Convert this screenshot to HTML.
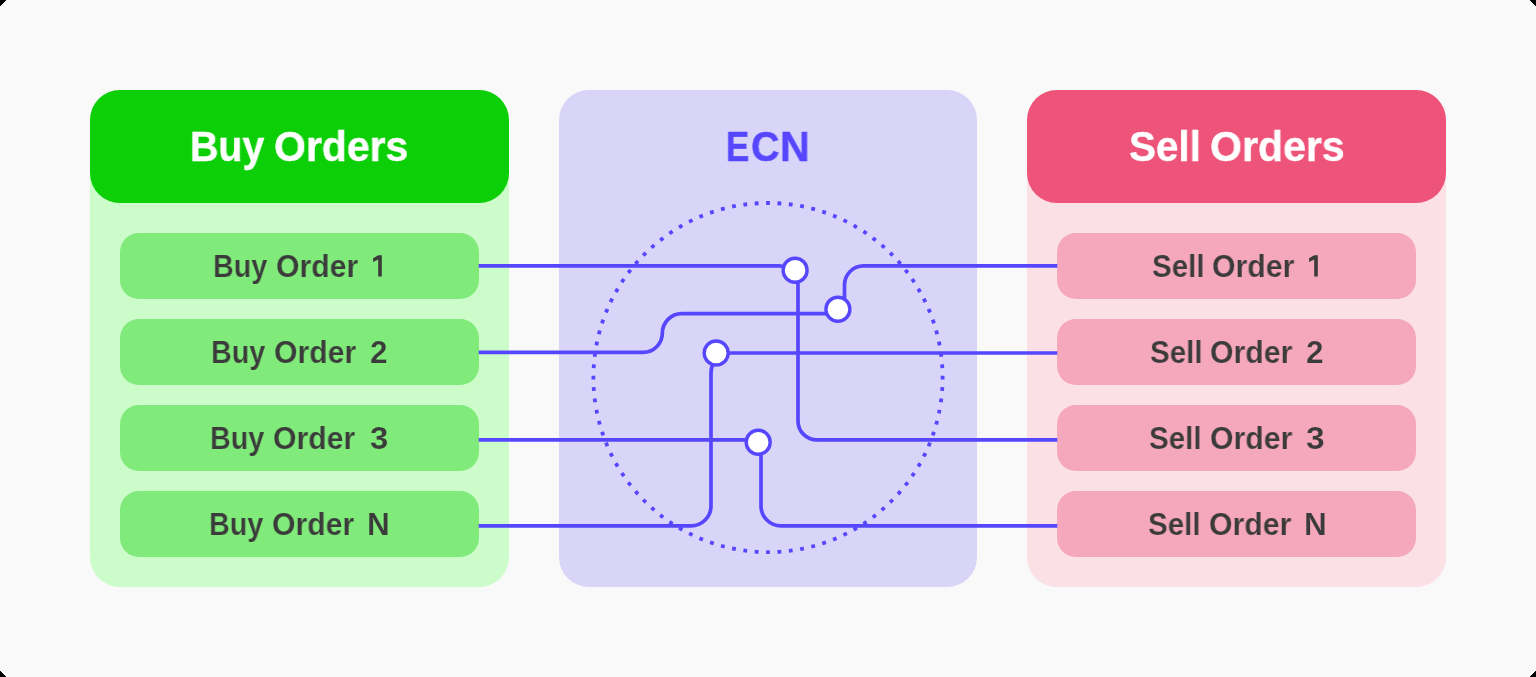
<!DOCTYPE html>
<html>
<head>
<meta charset="utf-8">
<style>
html,body{margin:0;padding:0;width:1536px;height:677px;overflow:hidden;background:#f9f9f9;}
#page{position:absolute;left:0;top:0;width:1536px;height:677px;background:#f9f9f9;font-family:"Liberation Sans",sans-serif;}
.panel{position:absolute;top:90px;width:418.67px;height:497px;border-radius:30px;}
.hdr{position:absolute;top:90px;width:418.67px;height:113px;border-radius:30px;}
.item{position:absolute;width:358.67px;height:66px;border-radius:19px;}
.t{position:absolute;white-space:pre;font-weight:bold;line-height:1;transform-origin:0 0;will-change:transform;}
svg{position:absolute;left:0;top:0;}
</style>
</head>
<body>
<div id="page">
<div class="panel" style="left:90px;background:#cdfccb"></div>
<div class="hdr" style="left:90px;background:#0ccf08"></div>
<div class="panel" style="left:558.67px;background:#d9d5f9"></div>
<div class="panel" style="left:1027.33px;background:#fbe0e6"></div>
<div class="hdr" style="left:1027.33px;background:#ee5379"></div>
<div class="item" style="left:120px;top:233px;background:#80ea7a"></div>
<div class="item" style="left:1057.33px;top:233px;background:#f5a7bb"></div>
<div class="item" style="left:120px;top:319px;background:#80ea7a"></div>
<div class="item" style="left:1057.33px;top:319px;background:#f5a7bb"></div>
<div class="item" style="left:120px;top:405px;background:#80ea7a"></div>
<div class="item" style="left:1057.33px;top:405px;background:#f5a7bb"></div>
<div class="item" style="left:120px;top:491px;background:#80ea7a"></div>
<div class="item" style="left:1057.33px;top:491px;background:#f5a7bb"></div>
<div class="t" style="left:189.82px;top:125.95px;font-size:42px;color:#ffffff;transform:scaleX(0.9364);-webkit-text-stroke:0.4px #ffffff">Buy</div>
<div class="t" style="left:274.29px;top:125.95px;font-size:42px;color:#ffffff;transform:scaleX(0.9758);-webkit-text-stroke:0.4px #ffffff">Orders</div>
<div class="t" style="left:1129.40px;top:125.95px;font-size:42px;color:#ffffff;transform:scaleX(0.9631);-webkit-text-stroke:0.4px #ffffff">Sell</div>
<div class="t" style="left:1210.19px;top:125.95px;font-size:42px;color:#ffffff;transform:scaleX(0.9788);-webkit-text-stroke:0.4px #ffffff">Orders</div>
<div class="t" style="left:726.32px;top:125.95px;font-size:42px;color:#5647fe;transform:scaleX(0.8298);-webkit-text-stroke:0.4px #5647fe">E</div>
<div class="t" style="left:751.35px;top:125.95px;font-size:42px;color:#5647fe;transform:scaleX(0.9431);-webkit-text-stroke:0.4px #5647fe">C</div>
<div class="t" style="left:780.41px;top:125.95px;font-size:42px;color:#5647fe;transform:scaleX(0.9778);-webkit-text-stroke:0.4px #5647fe">N</div>
<div class="t" style="left:212.78px;top:250.95px;font-size:31.5px;color:#3b3b3b;transform:scaleX(0.9118);-webkit-text-stroke:0.2px #80ea7a">Buy</div>
<div class="t" style="left:275.90px;top:250.95px;font-size:31.5px;color:#3b3b3b;transform:scaleX(0.9583);-webkit-text-stroke:0.2px #80ea7a">Order</div>
<div class="t" style="left:210.98px;top:336.95px;font-size:31.5px;color:#3b3b3b;transform:scaleX(0.9118);-webkit-text-stroke:0.2px #80ea7a">Buy</div>
<div class="t" style="left:274.10px;top:336.95px;font-size:31.5px;color:#3b3b3b;transform:scaleX(0.9583);-webkit-text-stroke:0.2px #80ea7a">Order</div>
<div class="t" style="left:369.80px;top:337.20px;font-size:31.5px;color:#3b3b3b;transform:scaleX(0.9967);-webkit-text-stroke:0.2px #80ea7a">2</div>
<div class="t" style="left:210.18px;top:422.95px;font-size:31.5px;color:#3b3b3b;transform:scaleX(0.9118);-webkit-text-stroke:0.2px #80ea7a">Buy</div>
<div class="t" style="left:273.30px;top:422.95px;font-size:31.5px;color:#3b3b3b;transform:scaleX(0.9583);-webkit-text-stroke:0.2px #80ea7a">Order</div>
<div class="t" style="left:369.52px;top:423.20px;font-size:31.5px;color:#3b3b3b;transform:scaleX(1.0452);-webkit-text-stroke:0.2px #80ea7a">3</div>
<div class="t" style="left:208.88px;top:508.95px;font-size:31.5px;color:#3b3b3b;transform:scaleX(0.9118);-webkit-text-stroke:0.2px #80ea7a">Buy</div>
<div class="t" style="left:272.00px;top:508.95px;font-size:31.5px;color:#3b3b3b;transform:scaleX(0.9583);-webkit-text-stroke:0.2px #80ea7a">Order</div>
<div class="t" style="left:367.24px;top:508.95px;font-size:31.5px;color:#3b3b3b;transform:scaleX(0.9784);-webkit-text-stroke:0.2px #80ea7a">N</div>
<div class="t" style="left:1151.66px;top:250.95px;font-size:31.5px;color:#3b3b3b;transform:scaleX(0.9384);-webkit-text-stroke:0.2px #f5a7bb">Sell</div>
<div class="t" style="left:1212.10px;top:250.95px;font-size:31.5px;color:#3b3b3b;transform:scaleX(0.9595);-webkit-text-stroke:0.2px #f5a7bb">Order</div>
<div class="t" style="left:1149.76px;top:336.95px;font-size:31.5px;color:#3b3b3b;transform:scaleX(0.9384);-webkit-text-stroke:0.2px #f5a7bb">Sell</div>
<div class="t" style="left:1210.20px;top:336.95px;font-size:31.5px;color:#3b3b3b;transform:scaleX(0.9595);-webkit-text-stroke:0.2px #f5a7bb">Order</div>
<div class="t" style="left:1306.00px;top:337.20px;font-size:31.5px;color:#3b3b3b;transform:scaleX(0.9967);-webkit-text-stroke:0.2px #f5a7bb">2</div>
<div class="t" style="left:1149.36px;top:422.95px;font-size:31.5px;color:#3b3b3b;transform:scaleX(0.9384);-webkit-text-stroke:0.2px #f5a7bb">Sell</div>
<div class="t" style="left:1209.80px;top:422.95px;font-size:31.5px;color:#3b3b3b;transform:scaleX(0.9595);-webkit-text-stroke:0.2px #f5a7bb">Order</div>
<div class="t" style="left:1305.70px;top:423.20px;font-size:31.5px;color:#3b3b3b;transform:scaleX(1.0645);-webkit-text-stroke:0.2px #f5a7bb">3</div>
<div class="t" style="left:1148.06px;top:508.95px;font-size:31.5px;color:#3b3b3b;transform:scaleX(0.9384);-webkit-text-stroke:0.2px #f5a7bb">Sell</div>
<div class="t" style="left:1208.50px;top:508.95px;font-size:31.5px;color:#3b3b3b;transform:scaleX(0.9595);-webkit-text-stroke:0.2px #f5a7bb">Order</div>
<div class="t" style="left:1303.60px;top:508.95px;font-size:31.5px;color:#3b3b3b;transform:scaleX(1.0000);-webkit-text-stroke:0.2px #f5a7bb">N</div>
<svg width="1536" height="677" viewBox="0 0 1536 677">
<g fill="none" stroke="#5647fe" stroke-width="3.7">
<circle cx="768" cy="377.6" r="174.6" stroke-width="3.8" pathLength="96" stroke-dasharray="0.3333 0.6667" stroke-dashoffset="0.1667"/>
<path d="M478.7 265.9 H779 A19 19 0 0 1 798 284.9 V420.9 A19 19 0 0 0 817 439.9 H1057.3"/>
<path d="M478.7 352.4 H643 A19.35 19.35 0 0 0 662.35 333.05 A19.35 19.35 0 0 1 681.7 313.7 H838"/>
<path d="M1057.3 265.9 H863.5 A19 19 0 0 0 844.5 284.9 V309"/>
<path d="M1057.3 353 H731 A20 20 0 0 0 711 373 V505.9 A20 20 0 0 1 691 525.9 H478.7"/>
<path d="M478.7 439.9 H758 V443 M761 443 V505.9 A20 20 0 0 0 781 525.9 H1057.3"/>
</g>
<polygon fill="#3b3b3b" points="373.10,258.30 378.20,255.20 381.80,255.20 381.80,276.60 378.20,276.60 378.20,259.60 373.10,261.90"/><polygon fill="#3b3b3b" points="1309.10,258.30 1314.20,255.20 1317.80,255.20 1317.80,276.60 1314.20,276.60 1314.20,259.60 1309.10,261.90"/>
<g fill="#fff" stroke="#5647fe" stroke-width="3.4">
<circle cx="795.1" cy="270.3" r="12"/>
<circle cx="837.9" cy="309.2" r="12"/>
<circle cx="716.2" cy="353" r="12"/>
<circle cx="758.2" cy="442.3" r="12"/>
</g>
</svg>
<svg width="1536" height="677" shape-rendering="crispEdges"><rect x="0" y="0" width="6" height="1" fill="#000"/><rect x="1530" y="0" width="6" height="1" fill="#000"/><rect x="0" y="676" width="6" height="1" fill="#000"/><rect x="1530" y="676" width="6" height="1" fill="#000"/><rect x="6" y="0" width="1" height="1" fill="#fff"/><rect x="1529" y="0" width="1" height="1" fill="#fff"/><rect x="6" y="676" width="1" height="1" fill="#fff"/><rect x="1529" y="676" width="1" height="1" fill="#fff"/><rect x="0" y="1" width="5" height="1" fill="#000"/><rect x="1531" y="1" width="5" height="1" fill="#000"/><rect x="0" y="675" width="5" height="1" fill="#000"/><rect x="1531" y="675" width="5" height="1" fill="#000"/><rect x="5" y="1" width="1" height="1" fill="#fff"/><rect x="1530" y="1" width="1" height="1" fill="#fff"/><rect x="5" y="675" width="1" height="1" fill="#fff"/><rect x="1530" y="675" width="1" height="1" fill="#fff"/><rect x="0" y="2" width="4" height="1" fill="#000"/><rect x="1532" y="2" width="4" height="1" fill="#000"/><rect x="0" y="674" width="4" height="1" fill="#000"/><rect x="1532" y="674" width="4" height="1" fill="#000"/><rect x="4" y="2" width="1" height="1" fill="#fff"/><rect x="1531" y="2" width="1" height="1" fill="#fff"/><rect x="4" y="674" width="1" height="1" fill="#fff"/><rect x="1531" y="674" width="1" height="1" fill="#fff"/><rect x="0" y="3" width="3" height="1" fill="#000"/><rect x="1533" y="3" width="3" height="1" fill="#000"/><rect x="0" y="673" width="3" height="1" fill="#000"/><rect x="1533" y="673" width="3" height="1" fill="#000"/><rect x="3" y="3" width="1" height="1" fill="#fff"/><rect x="1532" y="3" width="1" height="1" fill="#fff"/><rect x="3" y="673" width="1" height="1" fill="#fff"/><rect x="1532" y="673" width="1" height="1" fill="#fff"/><rect x="0" y="4" width="2" height="1" fill="#000"/><rect x="1534" y="4" width="2" height="1" fill="#000"/><rect x="0" y="672" width="2" height="1" fill="#000"/><rect x="1534" y="672" width="2" height="1" fill="#000"/><rect x="2" y="4" width="1" height="1" fill="#fff"/><rect x="1533" y="4" width="1" height="1" fill="#fff"/><rect x="2" y="672" width="1" height="1" fill="#fff"/><rect x="1533" y="672" width="1" height="1" fill="#fff"/><rect x="0" y="5" width="1" height="1" fill="#000"/><rect x="1535" y="5" width="1" height="1" fill="#000"/><rect x="0" y="671" width="1" height="1" fill="#000"/><rect x="1535" y="671" width="1" height="1" fill="#000"/><rect x="1" y="5" width="1" height="1" fill="#fff"/><rect x="1534" y="5" width="1" height="1" fill="#fff"/><rect x="1" y="671" width="1" height="1" fill="#fff"/><rect x="1534" y="671" width="1" height="1" fill="#fff"/><rect x="0" y="6" width="1" height="1" fill="#fff"/><rect x="1535" y="6" width="1" height="1" fill="#fff"/><rect x="0" y="670" width="1" height="1" fill="#fff"/><rect x="1535" y="670" width="1" height="1" fill="#fff"/></svg>
</div>
</body>
</html>
